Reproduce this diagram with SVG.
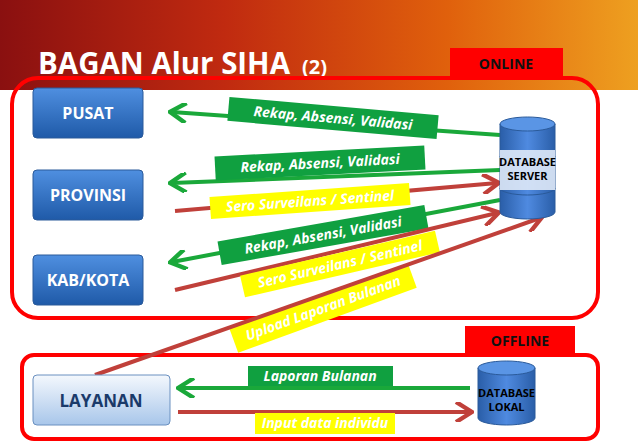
<svg xmlns="http://www.w3.org/2000/svg" width="638" height="442" viewBox="0 0 638 442">
<defs>
<linearGradient id="hdr" x1="0" y1="0" x2="1" y2="0"><stop offset="0" stop-color="#8a1010"/><stop offset="0.35" stop-color="#c02a10"/><stop offset="0.7" stop-color="#e0600c"/><stop offset="1" stop-color="#eea020"/></linearGradient>
<linearGradient id="blue" x1="0" y1="0" x2="0" y2="1"><stop offset="0" stop-color="#4f8fe0"/><stop offset="1" stop-color="#1f5aa8"/></linearGradient>
<linearGradient id="lblue" x1="0" y1="0" x2="0" y2="1"><stop offset="0" stop-color="#f4f8fd"/><stop offset="1" stop-color="#a8c6ea"/></linearGradient>
<linearGradient id="cyl" x1="0" y1="0" x2="1" y2="0"><stop offset="0" stop-color="#2a5ea8"/><stop offset="0.5" stop-color="#4f8ae0"/><stop offset="1" stop-color="#2a5ea8"/></linearGradient>
<marker id="ag" viewBox="0 0 10 10" refX="8" refY="5" markerWidth="5" markerHeight="5" orient="auto"><path d="M1,0 L9,5 L1,10" fill="none" stroke="#1aa83a" stroke-width="2.2"/></marker>
<marker id="ar" viewBox="0 0 10 10" refX="8" refY="5" markerWidth="5" markerHeight="5" orient="auto"><path d="M1,0 L9,5 L1,10" fill="none" stroke="#c0403a" stroke-width="2.2"/></marker>
</defs>
<style>
.node{stroke:#2a5a9a;stroke-width:1}
.nt{font-family:"Open Sans","Liberation Sans",sans-serif;font-weight:bold;font-size:16px;fill:#fff;text-anchor:middle}
.g{stroke:#1aa83a;stroke-width:4;fill:none}
.r{stroke:#c0403a;stroke-width:4;fill:none}
.gb{fill:#10a040}
.yb{fill:#ffff00}
.lt{font-family:"Open Sans","Liberation Sans",sans-serif;font-weight:bold;font-style:italic;font-size:14px;fill:#fff;text-anchor:middle}
.tag{fill:#ff0000}
.tt{font-family:"Open Sans","Liberation Sans",sans-serif;font-weight:bold;font-size:14px;fill:#111;text-anchor:middle}
.dbt{font-family:"Open Sans","Liberation Sans",sans-serif;font-weight:bold;font-size:11px;fill:#000;text-anchor:middle}
</style>
<rect width="638" height="442" fill="#fff"/>
<rect width="638" height="90" fill="url(#hdr)"/>
<text x="38" y="74" font-family="'Open Sans','Liberation Sans',sans-serif" font-weight="bold" font-size="31" fill="#fff" textLength="252" lengthAdjust="spacingAndGlyphs">BAGAN Alur SIHA</text>
<text x="302" y="74" font-family="'Open Sans','Liberation Sans',sans-serif" font-weight="bold" font-size="20" fill="#fff">(2)</text>
<rect x="12" y="78" width="586" height="240" rx="26" fill="none" stroke="#ff0000" stroke-width="4"/>
<rect x="22" y="355" width="576" height="84" rx="12" fill="none" stroke="#ff0000" stroke-width="4"/>
<g id="online"><rect x="450" y="48" width="113" height="30" class="tag"/><text x="506" y="69" class="tt">ONLINE</text></g>
<g id="offline"><rect x="465" y="326" width="110" height="29" class="tag"/><text x="520" y="346" class="tt">OFFLINE</text></g>
<g id="connectors">
<line class="g" x1="500" y1="135" x2="172" y2="112" marker-end="url(#ag)"/>
<g transform="translate(333,118) rotate(5)"><rect x="-105" y="-12" width="210" height="24" class="gb"/><text y="5" class="lt">Rekap, Absensi, Validasi</text></g>
<line class="g" x1="500" y1="170" x2="172" y2="183" marker-end="url(#ag)"/>
<g transform="translate(320,163) rotate(-3)"><rect x="-105" y="-12" width="210" height="24" class="gb"/><text y="5" class="lt">Rekap, Absensi, Validasi</text></g>
<line class="r" x1="175" y1="211" x2="497" y2="183" marker-end="url(#ar)"/>
<g transform="translate(310,201) rotate(-4)"><rect x="-100" y="-11" width="200" height="22" class="yb"/><text y="5" class="lt">Sero Surveilans / Sentinel</text></g>
<line class="g" x1="500" y1="200" x2="172" y2="262" marker-end="url(#ag)"/>
<g transform="translate(323,235) rotate(-10)"><rect x="-105" y="-12" width="210" height="24" class="gb"/><text y="5" class="lt">Rekap, Absensi, Validasi</text></g>
<line class="r" x1="175" y1="290" x2="497" y2="213" marker-end="url(#ar)"/>
<g transform="translate(340,264) rotate(-13)"><rect x="-100" y="-11" width="200" height="22" class="yb"/><text y="5" class="lt">Sero Surveilans / Sentinel</text></g>
<g transform="translate(323,308) rotate(-20)"><rect x="-95" y="-13" width="190" height="26" class="yb"/><text y="5" class="lt">Upload Laporan Bulanan</text></g>
<line class="r" x1="95" y1="375" x2="540" y2="218" marker-end="url(#ar)"/>
<line class="g" x1="470" y1="388" x2="180" y2="388" marker-end="url(#ag)"/>
<rect x="248" y="366" width="145" height="20" class="gb"/><text x="320" y="381" class="lt">Laporan Bulanan</text>
<line class="r" x1="178" y1="412" x2="470" y2="412" marker-end="url(#ar)"/>
<rect x="255" y="413" width="140" height="21" class="yb"/><text x="325" y="428" class="lt">Input data individu</text>
</g>
<g id="pusat"><rect x="33" y="88" width="110" height="50" rx="4" fill="url(#blue)" class="node"/><text x="88" y="119" class="nt">PUSAT</text></g>
<g id="provinsi"><rect x="33" y="170" width="110" height="50" rx="4" fill="url(#blue)" class="node"/><text x="88" y="201" class="nt">PROVINSI</text></g>
<g id="kabkota"><rect x="33" y="255" width="110" height="50" rx="4" fill="url(#blue)" class="node"/><text x="88" y="286" class="nt">KAB/KOTA</text></g>
<g id="layanan"><rect x="33" y="375" width="137" height="50" rx="4" fill="url(#lblue)" stroke="#6a90c0"/><text x="101" y="407" class="nt" style="fill:#1a3a6a;font-size:17px">LAYANAN</text></g>
<g id="dbserver">
<path d="M500,124 v88 a27.5,7 0 0 0 55,0 v-88" fill="url(#cyl)" stroke="#2a5a9a"/>
<ellipse cx="527.5" cy="124" rx="27.5" ry="7" fill="#5a95e5" stroke="#2a5a9a"/>
<path d="M500,156 a27.5,7 0 0 0 55,0 M500,188 a27.5,7 0 0 0 55,0" fill="none" stroke="#2a5a9a"/>
<rect x="500" y="150" width="55" height="40" fill="#dfe9f7" opacity="0.9"/>
<text x="527.5" y="166" class="dbt">DATABASE</text><text x="527.5" y="180" class="dbt">SERVER</text>
</g>
<g id="dblokal">
<path d="M478,368 v50 a28.5,7 0 0 0 57,0 v-50" fill="url(#cyl)" stroke="#2a5a9a"/>
<ellipse cx="506.5" cy="368" rx="28.5" ry="7" fill="#5a95e5" stroke="#2a5a9a"/>
<text x="506.5" y="397" class="dbt">DATABASE</text><text x="506.5" y="411" class="dbt">LOKAL</text>
</g>
</svg>
